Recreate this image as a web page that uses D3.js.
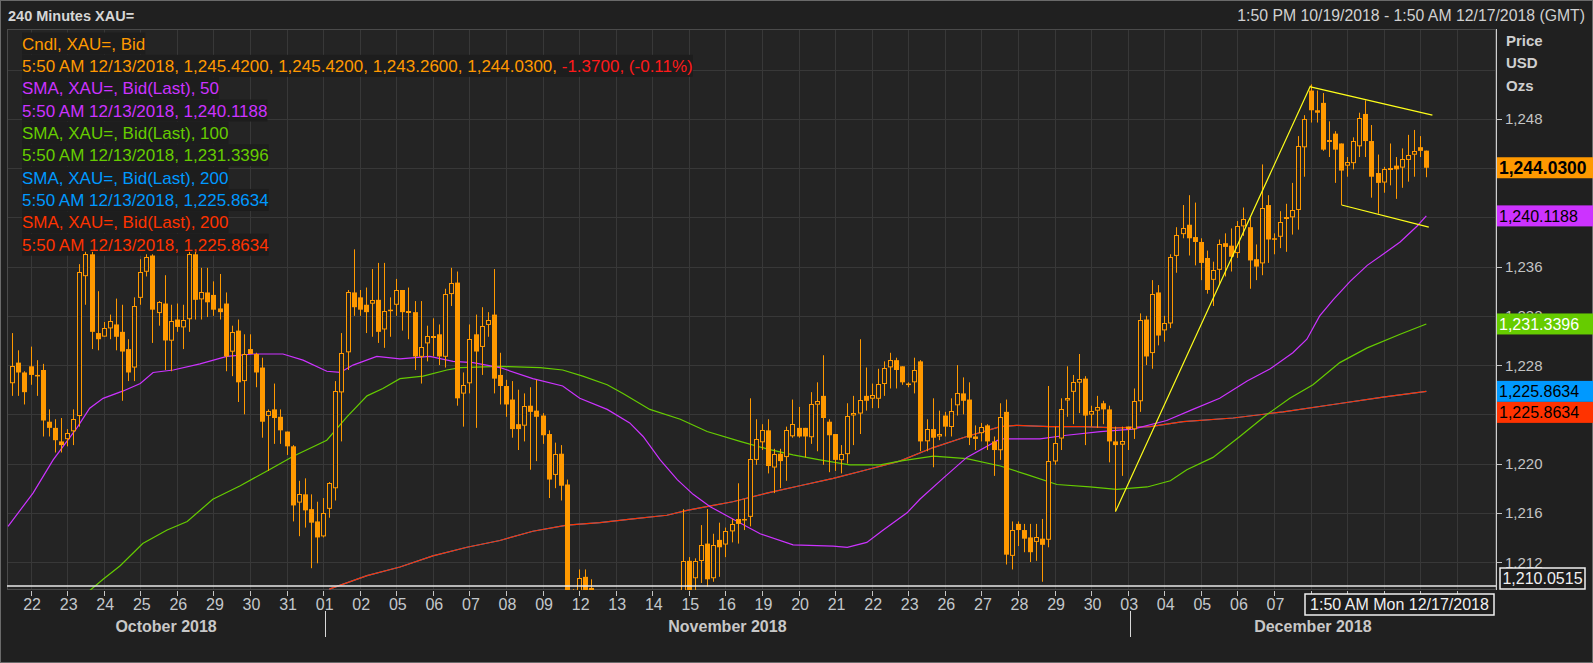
<!DOCTYPE html>
<html>
<head>
<meta charset="utf-8">
<script src="https://cdn.jsdelivr.net/npm/d3@7"></script>
<style>
html, body { margin: 0; padding: 0; background: #202020; }
svg { display: block; font-family: "Liberation Sans", Arial, sans-serif; }
</style>
</head>
<body>
<svg id="chart"></svg>
<script>
// 240 minute candles, XAU= bid, 19 Oct - 17 Dec 2018

const W = 1593, H = 663;
const plot = { left: 7, top: 29, right: 1496, bottom: 590 };

// x axis: one trading day = 6 bars, first full day (Oct 22) starts at bar 3
const barsPerDay = 6, firstDayBar = 3;
const dayLabels = ["22","23","24","25","26","29","30","31","01","02","05","06","07","08","09",
                   "12","13","14","15","16","19","20","21","22","23","26","27","28","29","30",
                   "03","04","05","06","07","10","11","12","13","14"];
const monthLabels = ["October 2018", "November 2018", "December 2018"];
const monthStartDay = [0, 8, 30];
const yTicks = [1212, 1216, 1220, 1224, 1228, 1232, 1236, 1240, 1244, 1248, 1252];
const yLabels = [1212, 1216, 1220, 1228, 1232, 1236, 1248];   // the rest sit under value boxes

// [open, high, low, close], bar 0 .. 232
const ohlc = [
  [1226.5,1230.6,1225.5,1227.9],[1228.2,1229.2,1225.5,1227.4],[1227.4,1227.5,1224.8,1225.8],[1227.9,1229.5,1226.4,1227.2],
  [1227.2,1228.4,1225.5,1227.1],[1227.6,1228.1,1222.2,1223.5],[1223.4,1224.4,1222.2,1222.9],[1222.9,1223.6,1220.9,1221.9],
  [1221.8,1223.7,1220.9,1221.5],[1222.0,1222.8,1221.4,1222.5],[1222.6,1224.4,1221.5,1223.6],[1223.9,1236.2,1223.0,1235.6],
  [1235.2,1237.2,1232.9,1237.0],[1237.0,1237.2,1229.3,1230.7],[1230.6,1234.0,1229.2,1230.1],[1230.3,1231.5,1230.3,1231.0],
  [1231.0,1232.1,1230.1,1231.6],[1231.3,1233.4,1229.2,1230.3],[1230.7,1232.9,1225.1,1229.1],[1229.3,1230.1,1226.7,1227.4],
  [1227.8,1233.5,1226.7,1232.8],[1233.5,1236.6,1232.9,1235.6],[1235.6,1237.0,1235.2,1236.8],[1236.9,1237.0,1229.8,1232.5],
  [1232.2,1233.2,1231.2,1233.1],[1233.0,1235.3,1227.6,1230.0],[1230.0,1232.9,1227.5,1231.6],[1231.7,1233.0,1230.7,1231.1],
  [1231.1,1232.9,1229.3,1231.7],[1231.7,1237.2,1230.7,1237.0],[1237.0,1237.2,1231.7,1233.3],[1233.3,1235.9,1231.7,1233.9],
  [1233.9,1235.9,1231.9,1233.1],[1233.7,1234.8,1232.0,1232.5],[1232.6,1235.4,1231.7,1232.3],[1233.0,1233.9,1227.5,1228.7],
  [1229.1,1231.2,1227.1,1230.7],[1230.8,1231.7,1225.0,1226.6],[1226.7,1230.5,1224.0,1228.9],[1229.3,1230.5,1228.9,1228.9],
  [1228.9,1229.0,1226.2,1227.4],[1227.8,1228.6,1222.1,1223.4],[1223.9,1224.4,1219.4,1224.3],[1224.4,1226.5,1221.6,1223.7],
  [1223.8,1224.4,1221.6,1222.7],[1222.6,1222.6,1220.7,1221.4],[1221.4,1221.5,1215.3,1216.6],[1216.8,1218.6,1214.1,1217.5],
  [1217.5,1218.8,1214.8,1216.2],[1216.3,1217.5,1211.5,1215.2],[1215.3,1216.9,1211.9,1214.0],[1214.1,1217.2,1214.0,1216.0],
  [1216.3,1218.5,1215.6,1218.4],[1218.0,1226.7,1217.0,1225.9],[1225.8,1230.6,1221.8,1229.0],[1229.0,1234.1,1227.6,1233.9],
  [1233.9,1237.4,1232.0,1232.7],[1233.5,1234.1,1232.0,1232.5],[1232.9,1234.3,1230.6,1232.3],[1233.0,1235.8,1230.3,1233.3],
  [1233.3,1236.3,1229.8,1230.7],[1230.9,1236.3,1229.4,1232.4],[1232.5,1233.5,1230.3,1232.4],[1232.9,1235.0,1232.0,1234.1],
  [1234.1,1234.1,1230.8,1232.3],[1232.3,1234.3,1230.1,1232.4],[1232.3,1233.2,1227.6,1228.7],[1228.7,1233.2,1226.5,1229.5],
  [1229.8,1231.2,1228.3,1230.4],[1230.4,1231.8,1228.7,1230.4],[1230.5,1231.3,1228.0,1228.7],[1228.7,1234.2,1227.8,1233.8],
  [1233.8,1235.9,1232.8,1234.7],[1234.7,1235.6,1224.7,1225.3],[1225.7,1227.4,1223.0,1226.4],[1226.5,1231.3,1225.7,1230.1],
  [1230.5,1232.1,1222.9,1229.1],[1229.5,1232.7,1227.2,1231.2],[1231.3,1232.3,1230.3,1231.7],[1232.1,1235.8,1225.7,1226.9],
  [1227.2,1229.0,1224.8,1226.3],[1226.3,1226.8,1223.8,1224.8],[1225.2,1226.7,1222.1,1222.8],[1223.2,1226.0,1221.1,1222.8],
  [1223.1,1225.7,1221.8,1224.7],[1224.7,1226.2,1219.5,1224.2],[1224.3,1226.8,1220.2,1223.8],[1223.9,1224.1,1221.6,1222.3],
  [1222.4,1222.7,1217.2,1218.7],[1219.1,1221.7,1218.0,1220.8],[1220.8,1221.5,1217.0,1218.2],[1218.3,1218.7,1207.5,1208.5],
  [1208.5,1209.8,1207.0,1209.0],[1209.0,1211.4,1208.5,1210.7],[1210.8,1211.4,1208.9,1209.5],[1209.9,1210.6,1208.0,1208.6],
  [1208.6,1209.0,1204.5,1205.2],[1205.2,1206.0,1201.5,1202.3],[1202.3,1203.4,1200.8,1202.0],[1202.0,1203.0,1199.5,1200.2],
  [1200.2,1201.5,1197.8,1198.6],[1198.6,1200.4,1196.2,1199.5],[1199.5,1201.8,1198.4,1201.0],[1201.0,1202.2,1198.9,1200.1],
  [1200.1,1201.3,1198.6,1200.8],[1200.8,1202.9,1200.0,1202.3],[1202.3,1204.8,1201.7,1204.1],[1204.1,1205.6,1202.8,1203.5],
  [1203.5,1206.2,1203.0,1205.8],[1205.8,1208.4,1205.1,1207.9],[1207.9,1216.3,1207.0,1212.1],[1212.1,1212.4,1207.5,1208.8],
  [1210.7,1212.3,1209.5,1212.1],[1212.1,1215.0,1210.3,1213.4],[1213.5,1216.3,1210.0,1210.6],[1210.7,1214.3,1210.4,1213.4],
  [1213.8,1215.2,1210.8,1213.2],[1213.4,1214.8,1212.4,1214.5],[1214.5,1215.5,1213.6,1215.1],[1215.5,1218.4,1213.5,1215.1],
  [1215.5,1217.1,1214.6,1215.4],[1215.7,1225.3,1214.9,1220.4],[1220.3,1223.6,1219.9,1222.0],[1221.7,1223.2,1221.1,1222.7],
  [1222.7,1223.6,1219.2,1219.8],[1219.7,1221.2,1217.6,1220.8],[1220.8,1221.2,1218.0,1220.2],[1220.5,1223.0,1218.6,1222.7],
  [1222.2,1225.2,1222.1,1223.2],[1222.9,1224.6,1222.1,1222.2],[1222.9,1222.9,1220.5,1222.2],[1222.1,1225.8,1221.6,1224.8],
  [1224.8,1226.6,1221.0,1225.1],[1225.5,1228.8,1219.9,1223.7],[1223.4,1223.6,1219.3,1222.3],[1222.4,1222.4,1219.4,1220.3],
  [1220.3,1221.5,1219.2,1220.8],[1220.8,1224.9,1220.0,1223.9],[1223.9,1225.5,1221.5,1224.1],[1224.1,1230.1,1222.4,1225.2],
  [1225.5,1227.8,1224.3,1225.1],[1225.3,1226.5,1224.5,1225.6],[1225.3,1227.7,1224.5,1226.5],[1226.5,1228.3,1225.5,1227.8],
  [1227.8,1229.0,1226.1,1228.4],[1228.4,1228.6,1226.1,1227.6],[1227.9,1227.9,1226.4,1226.6],[1226.5,1226.6,1226.2,1226.4],
  [1226.6,1228.6,1225.7,1227.6],[1228.3,1228.4,1221.0,1221.8],[1221.8,1223.6,1221.0,1222.8],[1222.8,1225.3,1219.7,1222.1],
  [1222.2,1224.3,1221.9,1222.4],[1223.9,1224.2,1222.2,1223.0],[1223.0,1225.3,1222.2,1224.3],[1224.7,1228.0,1223.9,1225.7],
  [1225.7,1227.0,1224.0,1225.1],[1225.2,1226.6,1221.5,1222.1],[1222.2,1223.1,1221.1,1222.0],[1222.5,1223.3,1221.8,1223.0],
  [1223.1,1223.2,1221.1,1221.8],[1221.8,1222.2,1219.0,1221.1],[1221.1,1224.9,1220.3,1223.8],[1224.2,1225.2,1211.8,1212.6],
  [1212.5,1215.3,1211.4,1214.6],[1215.1,1215.3,1213.3,1214.6],[1214.6,1215.1,1212.8,1213.9],[1214.0,1215.1,1212.0,1212.8],
  [1213.6,1215.1,1212.1,1214.0],[1213.9,1215.5,1210.4,1213.4],[1213.8,1226.3,1213.2,1220.2],[1220.2,1223.0,1219.9,1221.7],
  [1222.0,1225.3,1221.1,1224.4],[1225.1,1227.9,1223.8,1225.3],[1225.8,1227.2,1223.2,1226.6],[1226.6,1228.9,1224.1,1226.9],
  [1226.9,1227.1,1221.5,1223.9],[1224.0,1224.7,1223.0,1224.3],[1224.3,1225.5,1222.9,1224.6],[1224.9,1225.1,1223.2,1224.4],
  [1224.4,1224.7,1220.1,1221.8],[1221.8,1223.0,1216.1,1221.5],[1221.5,1223.0,1219.0,1221.8],[1223.0,1223.0,1221.1,1222.8],
  [1222.8,1226.1,1222.0,1225.1],[1225.1,1232.2,1224.2,1231.7],[1231.7,1232.0,1228.0,1228.7],[1229.0,1234.9,1227.7,1233.8],
  [1233.9,1234.5,1229.6,1230.4],[1230.8,1232.0,1229.9,1231.4],[1231.4,1237.0,1231.0,1236.8],[1236.9,1239.2,1235.5,1238.6],
  [1238.6,1241.0,1238.3,1239.1],[1239.4,1241.8,1236.9,1238.3],[1238.4,1241.2,1236.1,1238.0],[1238.0,1238.3,1234.9,1236.3],
  [1236.7,1237.3,1233.8,1234.1],[1234.9,1236.4,1232.8,1235.7],[1235.7,1238.2,1234.5,1237.8],[1237.9,1238.7,1235.2,1237.6],
  [1237.7,1239.1,1235.6,1236.8],[1237.1,1239.7,1236.7,1239.3],[1239.3,1240.8,1238.5,1239.9],[1239.2,1240.0,1234.2,1236.5],
  [1236.6,1237.8,1234.9,1236.0],[1236.3,1244.3,1235.3,1240.8],[1241.0,1241.8,1236.3,1238.2],[1238.3,1238.7,1237.0,1238.2],
  [1238.4,1240.5,1237.5,1239.6],[1239.9,1241.1,1237.2,1240.0],[1240.0,1242.8,1238.6,1240.6],[1240.6,1246.6,1239.0,1245.8],
  [1245.7,1248.3,1243.3,1248.0],[1250.3,1250.8,1247.7,1248.7],[1248.7,1250.3,1247.7,1248.5],[1249.3,1250.1,1245.4,1245.5],
  [1246.2,1247.8,1244.9,1246.3],[1246.8,1247.0,1242.8,1245.5],[1246.0,1246.0,1241.0,1243.8],[1244.2,1244.9,1243.3,1244.5],
  [1244.4,1246.5,1243.9,1246.2],[1245.8,1248.5,1244.9,1248.1],[1248.4,1249.5,1244.9,1246.2],[1246.2,1247.5,1241.6,1243.3],
  [1243.6,1245.1,1240.3,1242.8],[1242.8,1244.1,1242.0,1243.9],[1243.9,1246.0,1242.6,1244.0],[1244.2,1244.9,1241.5,1243.9],
  [1244.0,1245.6,1242.4,1244.7],[1244.7,1246.7,1242.9,1245.1],[1245.1,1247.1,1243.3,1245.4],[1245.7,1246.6,1244.9,1245.4],
  [1245.42,1245.42,1243.26,1244.03]
];

// moving averages: [bar, value]
const sma50 = [
  [-0.7,1214.9],[3.4,1217.6],[6.7,1220.3],[10.6,1222.9],[12.7,1224.5],[14.9,1225.3],[18.2,1225.9],[21,1226.5],
  [23.1,1227.4],[26.4,1227.6],[30.8,1228.1],[35.2,1228.7],[39.5,1228.9],[44.4,1228.9],[47.7,1228.4],[51.6,1227.5],
  [53.8,1227.4],[55.9,1228.0],[59.8,1228.7],[63.6,1228.5],[68.5,1228.7],[72.3,1228.3],[75.6,1228.2],[80,1227.8],
  [85.4,1226.9],[90.3,1226.3],[93.1,1225.3],[97.6,1224.4],[101.3,1223.3],[103.5,1222.2],[106.3,1220.3],[109.1,1218.7],
  [111.7,1217.5],[114.5,1216.5],[118.2,1215.5],[122.7,1214.3],[128.1,1213.4],[134.7,1213.3],[137,1213.2],[140.2,1213.6],
  [142.9,1214.6],[146.8,1216.0],[148.9,1217.1],[152.7,1218.8],[156.6,1220.5],[162.1,1222.0],[168.6,1222.0],[173,1222.3],
  [178.5,1222.6],[183.9,1222.8],[189.4,1223.5],[193.7,1224.4],[198.1,1225.3],[202.6,1226.7],[206.4,1227.7],[210.1,1229.0],
  [212.4,1230.1],[214.5,1232.0],[216.7,1233.3],[219.5,1234.8],[222.3,1236.1],[224.9,1237.0],[227.7,1238.0],[230.5,1239.3],
  [232,1240.1188]
];
const sma100 = [
  [12.5,1209.6],[14.9,1210.6],[17.7,1211.7],[21.4,1213.5],[25.4,1214.6],[28.7,1215.3],[32.9,1217.1],[37.4,1218.2],
  [41.8,1219.4],[46.1,1220.6],[51.6,1221.9],[54.9,1223.8],[58.2,1225.5],[60.8,1226.1],[63.6,1226.9],[67.4,1227.1],
  [71.3,1227.6],[73.5,1227.8],[80,1227.9],[86.6,1227.8],[90.3,1227.6],[93.6,1227.1],[97.6,1226.4],[100.2,1225.7],
  [104.6,1224.4],[109.6,1223.6],[114,1222.6],[119.4,1221.8],[123.8,1221.2],[128.1,1220.7],[132.5,1220.3],[137.4,1219.9],
  [142.4,1219.9],[145.6,1220.2],[151.1,1220.6],[156.6,1220.4],[162.1,1219.8],[166.5,1219.1],[171.4,1218.3],[176.8,1218.1],
  [181.2,1217.9],[186.2,1218.1],[190,1218.6],[192.7,1219.5],[197,1220.5],[201.4,1222.2],[205.9,1224.0],[209.6,1225.3],
  [213.4,1226.4],[217.8,1228.2],[222.3,1229.4],[227.7,1230.5],[232,1231.3396]
];
const sma200 = [
  [52,1209.8],[58.2,1210.9],[63.6,1211.6],[69,1212.5],[74.6,1213.2],[80,1213.75],[85.4,1214.5],[91,1215.0],
  [96.4,1215.2],[101.8,1215.5],[107.4,1215.8],[110.7,1216.2],[115,1216.6],[118.2,1216.9],[123.8,1217.6],[129.2,1218.2],
  [134.7,1218.8],[140.2,1219.5],[145.6,1220.2],[151.1,1221.3],[156.6,1222.2],[162.1,1223.0],[164.8,1223.1],[170.2,1223.0],
  [175.7,1223.0],[181.2,1222.9],[186.7,1223.0],[192.1,1223.4],[200.3,1223.7],[208.5,1224.2],[216.7,1224.8],[224.9,1225.4],
  [232,1225.8634]
];

// drawn trend lines (rally leg, flag top, flag bottom)
const trendLines = [
  [[181, 1216.1], [213, 1250.7]],
  [[213, 1250.6], [233, 1248.3]],
  [[218.1, 1241.0], [232.4, 1239.2]]
];

const orange = "#ff9900", magenta = "#cc33ff", green = "#66cc00", blue = "#0099ff", red = "#ff3300";

const legendRows = [
  [["Cndl, XAU=, Bid", orange]],
  [["5:50 AM 12/13/2018, 1,245.4200, 1,245.4200, 1,243.2600, 1,244.0300, ", orange], ["-1.3700, (-0.11%)", "#ff1a1a"]],
  [["SMA, XAU=, Bid(Last),  50", magenta]],
  [["5:50 AM 12/13/2018, 1,240.1188", magenta]],
  [["SMA, XAU=, Bid(Last),  100", green]],
  [["5:50 AM 12/13/2018, 1,231.3396", green]],
  [["SMA, XAU=, Bid(Last),  200", blue]],
  [["5:50 AM 12/13/2018, 1,225.8634", blue]],
  [["SMA, XAU=, Bid(Last),  200", red]],
  [["5:50 AM 12/13/2018, 1,225.8634", red]]
];

// last-value boxes on the price axis
const lastValues = [
  { v: 1244.03, fill: orange, text: "#000", bold: true, shift: 0 },
  { v: 1240.1188, fill: magenta, text: "#000", bold: false, shift: 0 },
  { v: 1231.3396, fill: green, text: "#fff", bold: false, shift: 0 },
  { v: 1225.8634, fill: blue, text: "#000", bold: false, shift: 0 },
  { v: 1225.8634, fill: red, text: "#000", bold: false, shift: 21 }
];
const cursorValue = 1210.0515;
const cursorTime = "1:50 AM Mon 12/17/2018";
const cursorBox = { x: 1305, w: 189 };

const svg = d3.select("#chart").attr("width", W).attr("height", H);

svg.append("rect").attr("width", W).attr("height", H).attr("fill", "#202020");
svg.append("rect").attr("x", 0.5).attr("y", 0.5).attr("width", W - 1).attr("height", H - 1)
    .attr("fill", "none").attr("stroke", "#6a6a6a");

const x = d3.scaleLinear().domain([-0.87, 243.43]).range([plot.left, plot.right]);
const y = d3.scaleLinear().domain([1209.73, 1255.3]).range([plot.bottom, plot.top]);
const dayBar = d => firstDayBar + d * barsPerDay;
const crisp = v => Math.round(v) + 0.5;

// header
svg.append("text").attr("x", 8).attr("y", 21).attr("fill", "#d6d6d6")
    .attr("font-size", 14.5).attr("font-weight", "bold").text("240 Minutes XAU=");
svg.append("text").attr("x", 1585).attr("y", 21).attr("fill", "#d0d0d0")
    .attr("font-size", 15.8).attr("text-anchor", "end")
    .text("1:50 PM 10/19/2018 - 1:50 AM 12/17/2018 (GMT)");

// plot area
svg.append("rect").attr("x", plot.left).attr("y", plot.top)
    .attr("width", plot.right - plot.left).attr("height", plot.bottom - plot.top)
    .attr("fill", "#242424");

svg.append("clipPath").attr("id", "clip").append("rect")
    .attr("x", plot.left).attr("y", plot.top)
    .attr("width", plot.right - plot.left).attr("height", plot.bottom - plot.top);

const grid = svg.append("g").attr("stroke", "#383838").attr("stroke-width", 1);
grid.selectAll("line.h").data(yTicks).enter().append("line")
    .attr("x1", plot.left).attr("x2", plot.right)
    .attr("y1", d => crisp(y(d))).attr("y2", d => crisp(y(d)));
grid.selectAll("line.v").data(dayLabels).enter().append("line")
    .attr("y1", plot.top).attr("y2", plot.bottom)
    .attr("x1", (d, i) => crisp(x(dayBar(i)))).attr("x2", (d, i) => crisp(x(dayBar(i))));

svg.append("rect").attr("x", plot.left + 0.5).attr("y", plot.top + 0.5)
    .attr("width", plot.right - plot.left - 1).attr("height", plot.bottom - plot.top - 1)
    .attr("fill", "none").attr("stroke", "#4a4a4a");

// legend
const legend = svg.append("g").attr("font-size", 17);
legendRows.forEach((row, i) => {
    const cy = 43.5 + i * 22.35;
    const bg = legend.append("rect").attr("fill", "#1d1d1d");
    const t = legend.append("text").attr("x", 22).attr("y", cy + 6);
    row.forEach(seg => t.append("tspan").attr("fill", seg[1]).text(seg[0]));
    const bb = t.node().getBBox();
    bg.attr("x", bb.x).attr("y", cy - 11).attr("width", bb.width).attr("height", 22);
});

const body = svg.append("g").attr("clip-path", "url(#clip)");

// moving averages (blue 200 lies under the red 200)
const line = d3.line().x(d => x(d[0])).y(d => y(d[1]));
[[sma200, blue], [sma200, red], [sma100, green], [sma50, magenta]].forEach(s => {
    body.append("path").datum(s[0]).attr("d", line)
        .attr("fill", "none").attr("stroke", s[1]).attr("stroke-width", 1.2);
});

// candles
const candle = body.append("g").selectAll("g").data(ohlc).enter().append("g");
candle.append("line")
    .attr("x1", (d, i) => crisp(x(i))).attr("x2", (d, i) => crisp(x(i)))
    .attr("y1", d => y(d[1])).attr("y2", d => y(d[2]))
    .attr("stroke", orange).attr("stroke-width", 1);
candle.append("rect")
    .attr("x", (d, i) => d[3] >= d[0] ? Math.round(x(i)) - 1.5 : Math.round(x(i)) - 2)
    .attr("width", d => d[3] >= d[0] ? 4 : 5)
    .attr("y", d => d[3] >= d[0] ? Math.round(y(d[3])) + 0.5 : y(d[0]))
    .attr("height", d => Math.max(d[3] >= d[0] ? 1 : 1.5, Math.abs(y(d[0]) - y(d[3])) - (d[3] >= d[0] ? 1 : 0)))
    .attr("fill", d => d[3] >= d[0] ? "#242424" : orange)
    .attr("stroke", d => d[3] >= d[0] ? orange : "none")
    .attr("stroke-width", 1);

// trend lines
body.selectAll("path.trend").data(trendLines).enter().append("path")
    .attr("d", line).attr("fill", "none").attr("stroke", "#ffff1a").attr("stroke-width", 1.2);

// cursor line
body.append("line").attr("x1", plot.left).attr("x2", plot.right)
    .attr("y1", y(cursorValue)).attr("y2", y(cursorValue))
    .attr("stroke", "#e8e8e8").attr("stroke-width", 1.6);

// price axis
svg.append("line").attr("x1", plot.right + 0.5).attr("x2", plot.right + 0.5)
    .attr("y1", plot.top).attr("y2", plot.bottom).attr("stroke", "#cfcfcf");
const yAxis = svg.append("g").attr("font-size", 15).attr("fill", "#c4c4c4");
yAxis.selectAll("line").data(yTicks.filter(d => d < 1252)).enter().append("line")
    .attr("x1", plot.right + 1).attr("x2", plot.right + 6)
    .attr("y1", d => crisp(y(d))).attr("y2", d => crisp(y(d))).attr("stroke", "#c4c4c4");
yAxis.selectAll("text").data(yLabels).enter().append("text")
    .attr("x", 1505).attr("y", d => y(d) + 5.5).text(d3.format(","));

["Price", "USD", "Ozs"].forEach((s, i) => {
    svg.append("text").attr("x", 1506).attr("y", 45.5 + i * 22.5).attr("fill", "#cfcfcf")
        .attr("font-size", 15).attr("font-weight", "bold").text(s);
});

lastValues.forEach(b => {
    const cy = y(b.v) + b.shift;
    svg.append("rect").attr("x", 1497).attr("y", cy - 10.5).attr("width", 96).attr("height", 21)
        .attr("fill", b.fill);
    svg.append("text").attr("x", 1499).attr("y", cy + 6).attr("fill", b.text)
        .attr("font-size", b.bold ? 17.5 : 16).attr("font-weight", b.bold ? "bold" : "normal")
        .text(d3.format(",.4f")(b.v));
});

svg.append("rect").attr("x", 1500).attr("y", 568).attr("width", 85).attr("height", 21)
    .attr("fill", "#1d1d1d").attr("stroke", "#f0f0f0").attr("stroke-width", 1.5);
svg.append("text").attr("x", 1542.5).attr("y", 584).attr("text-anchor", "middle")
    .attr("fill", "#f0f0f0").attr("font-size", 16).text(d3.format(",.4f")(cursorValue));

// time axis
const shownDays = dayLabels.map((d, i) => [d, i]).filter(p => x(dayBar(p[1])) + 12 < cursorBox.x);
const xAxis = svg.append("g").attr("font-size", 16).attr("fill", "#c4c8cc");
xAxis.selectAll("line").data(dayLabels).enter().append("line")
    .attr("x1", (d, i) => crisp(x(dayBar(i)))).attr("x2", (d, i) => crisp(x(dayBar(i))))
    .attr("y1", plot.bottom + 1).attr("y2", plot.bottom + 6).attr("stroke", "#c4c4c4");
xAxis.selectAll("text").data(shownDays).enter().append("text")
    .attr("x", p => x(dayBar(p[1])) + 1.5).attr("y", 610).attr("text-anchor", "middle").text(p => p[0]);

monthLabels.forEach((m, i) => {
    const from = i === 0 ? plot.left : x(dayBar(monthStartDay[i])) + 2;
    const to = i === monthLabels.length - 1 ? plot.right : x(dayBar(monthStartDay[i + 1])) + 2;
    if (i > 0) {
        svg.append("line").attr("x1", crisp(from)).attr("x2", crisp(from))
            .attr("y1", 611).attr("y2", 637).attr("stroke", "#d8d8d8");
    }
    svg.append("text").attr("x", (from + to) / 2).attr("y", 632).attr("text-anchor", "middle")
        .attr("fill", "#c8c8c8").attr("font-size", 16).attr("font-weight", "bold").text(m);
});

svg.append("rect").attr("x", cursorBox.x).attr("y", 594).attr("width", cursorBox.w).attr("height", 21)
    .attr("fill", "#1d1d1d").attr("stroke", "#f0f0f0").attr("stroke-width", 1.5);
svg.append("text").attr("x", cursorBox.x + cursorBox.w / 2).attr("y", 610).attr("text-anchor", "middle")
    .attr("fill", "#f0f0f0").attr("font-size", 16).text(cursorTime);
</script>
</body>
</html>
